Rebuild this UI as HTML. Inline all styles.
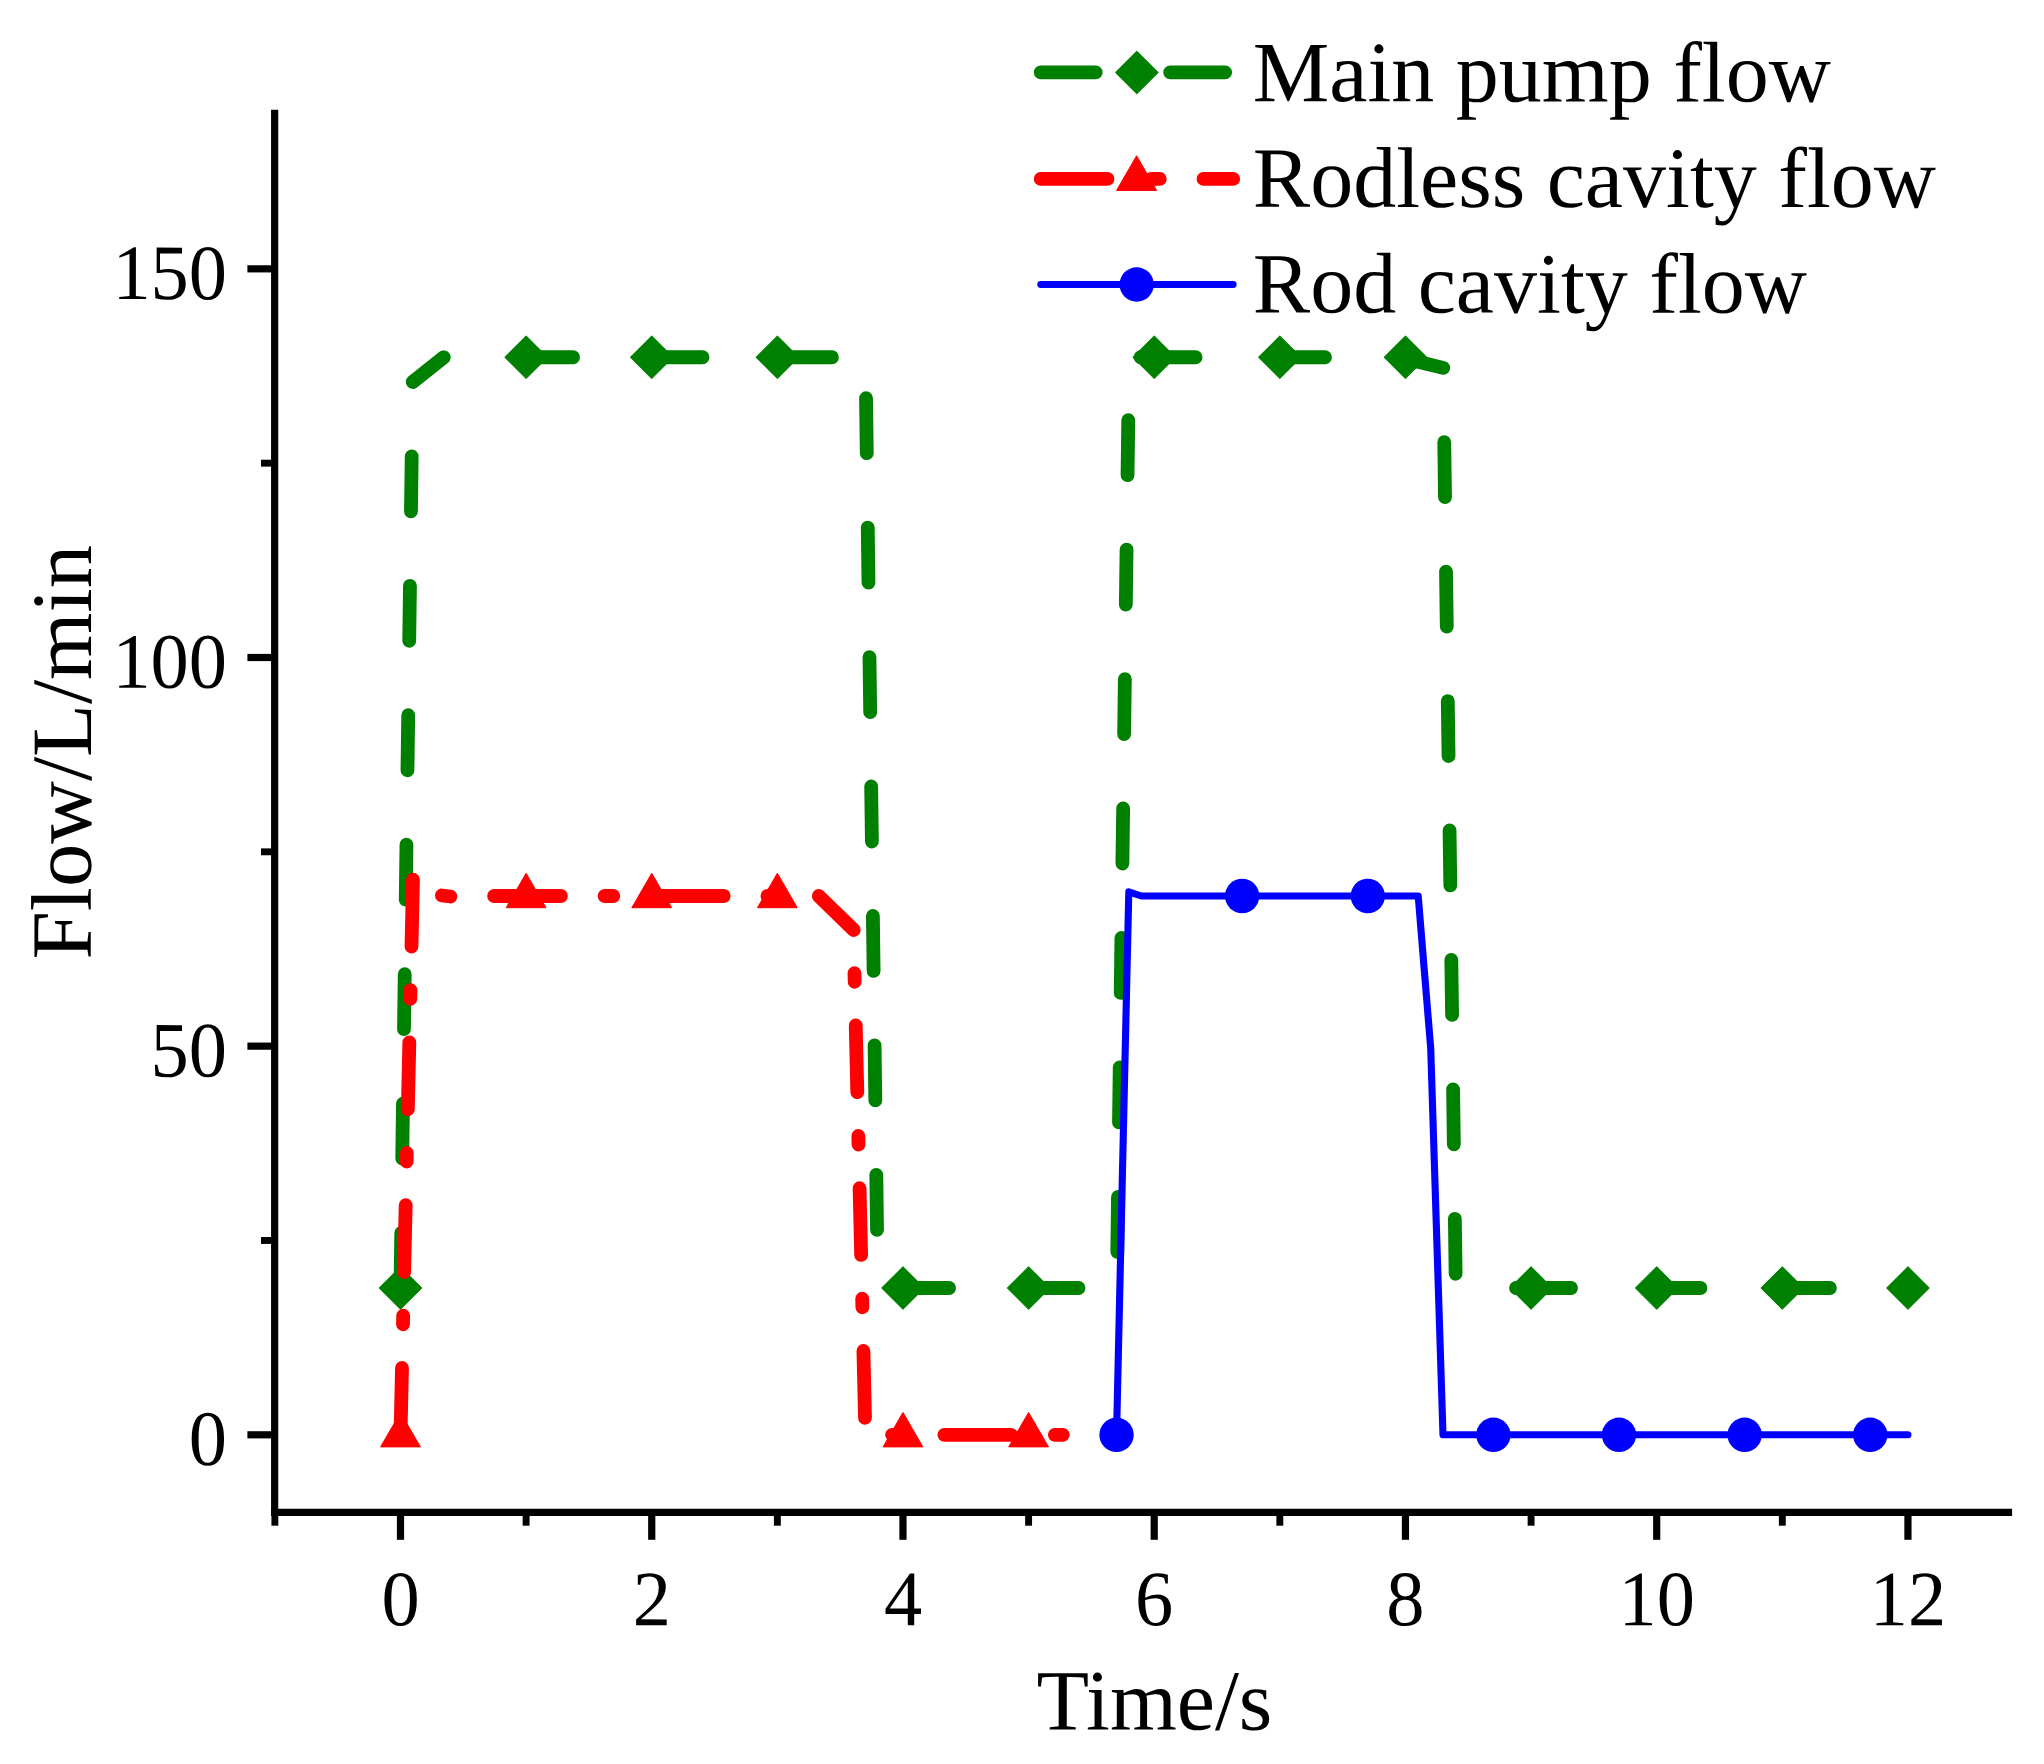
<!DOCTYPE html>
<html lang="en">
<head>
<meta charset="utf-8">
<title>Flow versus time</title>
<style>
html,body{margin:0;padding:0;background:#fff;}
body{width:2044px;height:1764px;overflow:hidden;}
svg{display:block;}
text{white-space:pre;}
</style>
</head>
<body>
<svg width="2044" height="1764" viewBox="0 0 2044 1764">
<rect width="2044" height="1764" fill="#fff"/>
<g stroke="#000" stroke-width="7.2" fill="none" stroke-linecap="butt">
<path d="M274.65 109.7 V1515.9"/>
<path d="M271.05 1512.3 H2012.1"/>
<path d="M247.4 1434.8 H274.65"/>
<path d="M247.4 1046.15 H274.65"/>
<path d="M247.4 657.5 H274.65"/>
<path d="M247.4 268.85 H274.65"/>
<path d="M261 1240.47 H274.65" stroke-width="6.9"/>
<path d="M261 851.82 H274.65" stroke-width="6.9"/>
<path d="M261 463.17 H274.65" stroke-width="6.9"/>
<path d="M400.5 1512.3 V1539.8"/>
<path d="M651.74 1512.3 V1539.8"/>
<path d="M902.98 1512.3 V1539.8"/>
<path d="M1154.22 1512.3 V1539.8"/>
<path d="M1405.46 1512.3 V1539.8"/>
<path d="M1656.7 1512.3 V1539.8"/>
<path d="M1907.94 1512.3 V1539.8"/>
<path d="M274.88 1512.3 V1525.7" stroke-width="6.9"/>
<path d="M526.12 1512.3 V1525.7" stroke-width="6.9"/>
<path d="M777.36 1512.3 V1525.7" stroke-width="6.9"/>
<path d="M1028.6 1512.3 V1525.7" stroke-width="6.9"/>
<path d="M1279.84 1512.3 V1525.7" stroke-width="6.9"/>
<path d="M1531.08 1512.3 V1525.7" stroke-width="6.9"/>
<path d="M1782.32 1512.3 V1525.7" stroke-width="6.9"/>
</g>
<g stroke="#008000" stroke-width="13.8" fill="none" stroke-linecap="round" stroke-linejoin="round">
<path d="M400.5 1288 L401.24 1233 M402.24 1158.56 L402.98 1103.57 M403.99 1029.12 L404.73 974.13 M405.73 899.69 L406.47 844.69 M407.47 770.25 L408.21 715.25 M409.21 640.81 L409.96 585.81 M410.96 511.37 L411.7 456.38 M412.7 382 L443.8 357.25 M518.1 357.25 L573.1 357.25 M647.55 357.25 L702.55 357.25 M777 357.25 L832 357.25 M866.04 398.2 L866.77 453.19 M867.75 527.64 L868.48 582.63 M869.46 657.07 L870.19 712.07 M871.17 786.51 L871.9 841.51 M872.88 915.95 L873.61 970.95 M874.59 1045.39 L875.32 1100.39 M876.3 1174.83 L877.03 1229.82 M894.07 1288 L949.07 1288 M1023.52 1288 L1078.52 1288 M1117.28 1251.83 L1118 1196.84 M1118.99 1122.4 L1119.72 1067.4 M1120.7 992.96 L1121.43 937.96 M1122.41 863.52 L1123.14 808.52 M1124.12 734.08 L1124.85 679.08 M1125.83 604.64 L1126.56 549.65 M1127.54 475.2 L1128.27 420.21 M1140.59 357.25 L1195.59 357.25 M1270.04 357.25 L1325.04 357.25 M1399.35 357.25 L1443.26 367.9 M1444.25 442.15 L1445 497.14 M1446.02 571.59 L1446.77 626.58 M1447.78 701.03 L1448.54 756.02 M1449.55 830.46 L1450.3 885.46 M1451.32 959.9 L1452.07 1014.9 M1453.09 1089.34 L1453.84 1144.33 M1454.85 1218.78 L1455.61 1273.77 M1516.02 1288 L1571.02 1288 M1645.47 1288 L1700.47 1288 M1774.92 1288 L1829.92 1288 M1904.37 1288 L1907.94 1288"/>
</g>
<g fill="#008000" stroke="#008000" stroke-width="1.1" stroke-linejoin="round">
<path d="M400.5 1266.95 l21.05 21.05 l-21.05 21.05 l-21.05 -21.05 z"/>
<path d="M526.12 336.2 l21.05 21.05 l-21.05 21.05 l-21.05 -21.05 z"/>
<path d="M651.74 336.2 l21.05 21.05 l-21.05 21.05 l-21.05 -21.05 z"/>
<path d="M777.36 336.2 l21.05 21.05 l-21.05 21.05 l-21.05 -21.05 z"/>
<path d="M902.98 1266.95 l21.05 21.05 l-21.05 21.05 l-21.05 -21.05 z"/>
<path d="M1028.6 1266.95 l21.05 21.05 l-21.05 21.05 l-21.05 -21.05 z"/>
<path d="M1154.22 336.2 l21.05 21.05 l-21.05 21.05 l-21.05 -21.05 z"/>
<path d="M1279.84 336.2 l21.05 21.05 l-21.05 21.05 l-21.05 -21.05 z"/>
<path d="M1405.46 336.2 l21.05 21.05 l-21.05 21.05 l-21.05 -21.05 z"/>
<path d="M1531.08 1266.95 l21.05 21.05 l-21.05 21.05 l-21.05 -21.05 z"/>
<path d="M1656.7 1266.95 l21.05 21.05 l-21.05 21.05 l-21.05 -21.05 z"/>
<path d="M1782.32 1266.95 l21.05 21.05 l-21.05 21.05 l-21.05 -21.05 z"/>
<path d="M1907.94 1266.95 l21.05 21.05 l-21.05 21.05 l-21.05 -21.05 z"/>
</g>
<g stroke="#ff0000" stroke-width="13.8" fill="none" stroke-linecap="round" stroke-linejoin="round">
<path d="M400.5 1434.8 L402 1368.02 M402.99 1324.33 L403.18 1315.73 M404.16 1272.04 L405.67 1205.26 M406.65 1161.57 L406.84 1152.97 M407.83 1109.28 L409.33 1042.5 M410.31 998.81 L410.51 990.21 M411.49 946.52 L412.99 879.74 M441.9 895.5 L450.44 896.51 M494.13 896 L560.93 896 M604.63 896 L613.23 896 M656.93 896 L723.73 896 M767.43 896 L776.03 896 M818.75 896 L853.75 930 M854.5 973.15 L854.7 981.75 M855.73 1025.44 L857.31 1092.22 M858.34 1135.9 L858.55 1144.5 M859.58 1188.19 L861.15 1254.97 M862.19 1298.66 L862.39 1307.26 M863.42 1350.94 L865 1417.73 M892.02 1434.8 L900.62 1434.8 M944.32 1434.8 L1011.12 1434.8 M1054.82 1434.8 L1062.8 1434.8"/>
</g>
<g fill="#ff0000" stroke="#ff0000" stroke-width="1" stroke-linejoin="round">
<path d="M400.5 1412.42 L420.4 1446.89 L380.6 1446.89 z"/>
<path d="M902.98 1412.42 L922.88 1446.89 L883.08 1446.89 z"/>
<path d="M1028.6 1412.42 L1048.5 1446.89 L1008.7 1446.89 z"/>
<path d="M526.12 873.22 L546.02 907.69 L506.22 907.69 z"/>
<path d="M651.74 873.22 L671.64 907.69 L631.84 907.69 z"/>
<path d="M777.36 873.22 L797.26 907.69 L757.46 907.69 z"/>
</g>
<path d="M1116.53 1434.8 L1128.8 891.9 L1141.35 896 L1418.2 896 L1430.7 1048 L1443 1434.8 L1907.94 1434.8" stroke="#0000ff" stroke-width="7.1" fill="none" stroke-linecap="round" stroke-linejoin="round"/>
<g fill="#0000ff">
<circle cx="1116.53" cy="1434.8" r="17.2"/>
<circle cx="1493.39" cy="1434.8" r="17.2"/>
<circle cx="1619.01" cy="1434.8" r="17.2"/>
<circle cx="1744.63" cy="1434.8" r="17.2"/>
<circle cx="1870.25" cy="1434.8" r="17.2"/>
<circle cx="1242.15" cy="896" r="17.2"/>
<circle cx="1367.77" cy="896" r="17.2"/>
</g>
<g fill="none" stroke-linecap="round">
<path d="M1040.7 72.4 L1095.7 72.4 M1170.15 72.4 L1225.15 72.4" stroke="#008000" stroke-width="13.8"/>
<path d="M1040.7 178.9 L1107.5 178.9 M1151.2 178.9 L1159.8 178.9 M1203.5 178.9 L1233.2 178.9" stroke="#ff0000" stroke-width="13.8"/>
<path d="M1040.7 284.5 H1233.2" stroke="#0000ff" stroke-width="6.9"/>
</g>
<g fill="#008000" stroke="#008000" stroke-width="1.1" stroke-linejoin="round"><path d="M1136.85 51.45 l21.05 21.05 l-21.05 21.05 l-21.05 -21.05 z"/></g>
<g fill="#ff0000" stroke="#ff0000" stroke-width="1" stroke-linejoin="round"><path d="M1136.6 155.75 L1156.65 190.48 L1116.55 190.48 z"/></g>
<circle cx="1136.7" cy="284.5" r="17.15" fill="#0000ff"/>
<g font-family="'Liberation Serif', serif" fill="#000">
<text id="y0" transform="translate(227 1465.1) rotate(0.03) scale(0.9550 0.9810)" font-size="80" text-anchor="end">0</text>
<text id="y50" transform="translate(227 1076.45) rotate(0.03) scale(0.9550 0.9810)" font-size="80" text-anchor="end">50</text>
<text id="y100" transform="translate(227 687.8) rotate(0.03) scale(0.9550 0.9810)" font-size="80" text-anchor="end">100</text>
<text id="y150" transform="translate(227 299.15) rotate(0.03) scale(0.9550 0.9810)" font-size="80" text-anchor="end">150</text>
<text id="x0" transform="translate(400.5 1625.3) rotate(0.03) scale(0.9550 0.9810)" font-size="80" text-anchor="middle">0</text>
<text id="x2" transform="translate(651.74 1625.3) rotate(0.03) scale(0.9550 0.9810)" font-size="80" text-anchor="middle">2</text>
<text id="x4" transform="translate(902.98 1625.3) rotate(0.03) scale(0.9550 0.9810)" font-size="80" text-anchor="middle">4</text>
<text id="x6" transform="translate(1154.22 1625.3) rotate(0.03) scale(0.9550 0.9810)" font-size="80" text-anchor="middle">6</text>
<text id="x8" transform="translate(1405.46 1625.3) rotate(0.03) scale(0.9550 0.9810)" font-size="80" text-anchor="middle">8</text>
<text id="x10" transform="translate(1656.7 1625.3) rotate(0.03) scale(0.9550 0.9810)" font-size="80" text-anchor="middle">10</text>
<text id="x12" transform="translate(1907.94 1625.3) rotate(0.03) scale(0.9550 0.9810)" font-size="80" text-anchor="middle">12</text>
<text id="xlabel" transform="translate(1154.4 1729.6) rotate(0.03) scale(1.0000 1.0000)" font-size="86" text-anchor="middle">Time/s</text>
<text id="ylabel" transform="translate(90.9 752.2) rotate(-89.97) scale(1.0086 1.0000)" font-size="86" text-anchor="middle">Flow/L/min</text>
<text id="leg0" transform="translate(1252.8 101.3) rotate(0.03) scale(1.0000 1.0000)" font-size="86" text-anchor="start">Main pump flow</text>
<text id="leg1" transform="translate(1252.8 206.8) rotate(0.03) scale(1.0000 1.0000)" font-size="86" text-anchor="start">Rodless cavity flow</text>
<text id="leg2" transform="translate(1252.8 312.5) rotate(0.03) scale(1.0000 1.0000)" font-size="86" text-anchor="start">Rod cavity flow</text>
</g>
</svg>
</body>
</html>
